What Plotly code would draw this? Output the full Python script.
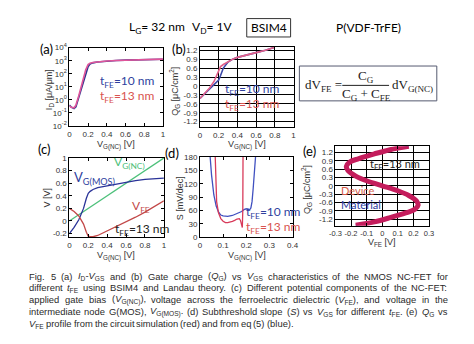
import re
import plotly.graph_objects as go

W, H = 474, 344

# ---------------- data ----------------
# (a) Id - Vg(NC)
a_v = [0, 0.02, 0.05, 0.07, 0.1, 0.125, 0.15, 0.175, 0.2, 0.22, 0.25, 0.3, 0.4, 0.5, 0.6, 0.7, 0.8, 0.9, 1.0]
a_id_10 = [0.4, 0.28, 0.22, 0.3, 1.5, 6, 30, 120, 350, 550, 680, 800, 950, 1030, 1100, 1150, 1200, 1250, 1300]
a_id_13 = [0.35, 0.27, 0.25, 0.4, 2.0, 9, 50, 200, 500, 650, 720, 820, 960, 1040, 1110, 1160, 1210, 1260, 1310]

# (b) Qg - Vg(NC)
b_v = [0, 0.05, 0.1, 0.15, 0.18, 0.2, 0.22, 0.25, 0.3, 0.35, 0.4, 0.5, 0.6, 0.7, 0.8]
b_q_10 = [-0.42, -0.27, -0.1, 0.05, 0.13, 0.2, 0.35, 0.6, 0.8, 0.9, 0.96, 1.05, 1.12, 1.2, 1.3]
b_q_13 = [-0.42, -0.26, -0.08, 0.15, 0.38, 0.55, 0.65, 0.72, 0.82, 0.9, 0.96, 1.05, 1.12, 1.2, 1.3]

# (c) potential components (tFE = 13 nm)
c_v = [0, 0.05, 0.1, 0.15, 0.18, 0.2, 0.22, 0.25, 0.3, 0.4, 0.5, 0.6, 0.7, 0.8, 0.9, 1.0]
c_vgnc = [0, 0.05, 0.1, 0.15, 0.18, 0.2, 0.22, 0.25, 0.3, 0.4, 0.5, 0.6, 0.7, 0.8, 0.9, 1.0]
c_vgmos = [-0.2, -0.1, 0.02, 0.2, 0.36, 0.44, 0.47, 0.5, 0.53, 0.56, 0.59, 0.62, 0.64, 0.66, 0.67, 0.68]
c_vfe = [0.2, 0.15, 0.08, -0.05, -0.18, -0.24, -0.25, -0.25, -0.23, -0.16, -0.09, -0.02, 0.06, 0.14, 0.23, 0.32]

# (d) subthreshold slope
d_v_10 = [0.044, 0.05, 0.06, 0.07, 0.08, 0.09, 0.1, 0.11, 0.12, 0.14, 0.16, 0.18, 0.19, 0.2, 0.21, 0.215, 0.22, 0.225, 0.23, 0.235, 0.24]
d_s_10 = [180, 140, 95, 70, 57, 50, 48, 47, 47, 49, 53, 58, 62, 64, 62, 62, 66, 80, 110, 145, 180]
d_v_13 = [0.066, 0.068, 0.072, 0.08, 0.09, 0.1, 0.11, 0.12, 0.13, 0.14, 0.15, 0.16, 0.17, 0.175, 0.18, 0.183, 0.185, 0.186]
d_s_13 = [180, 120, 80, 55, 42, 36, 33, 33, 34, 36, 38, 41, 42, 38, 28, 22, 60, 180]

# (e) Qg - Vfe S-curve
e_q = [1.42, 1.3, 1.15, 0.98, 0.85, 0.7, 0.55, 0.35, 0.18, 0, -0.18, -0.35, -0.55, -0.7, -0.85, -0.98, -1.15, -1.3, -1.42]
e_v = [0.17, 0.05, -0.05, -0.15, -0.21, -0.23, -0.22, -0.17, -0.1, 0, 0.1, 0.17, 0.22, 0.23, 0.21, 0.15, 0.05, -0.05, -0.17]

# tick labels
a_xt = [0, 0.2, 0.4, 0.6, 0.8, 1]
a_xl = ["0", "0.2", "0.4", "0.6", "0.8", "1"]
a_yt = [1e-2, 1e-1, 1, 10, 100, 1e3, 1e4]
a_yl = ["10<sup>-2</sup>", "10<sup>-1</sup>", "10<sup>0</sup>", "10<sup>1</sup>", "10<sup>2</sup>", "10<sup>3</sup>", "10<sup>4</sup>"]
b_yt = [-1.2, -0.9, -0.6, -0.3, 0, 0.3, 0.6, 0.9, 1.2]
b_yl = ["-1.2", "-0.9", "-0.6", "-0.3", "0", "0.3", "0.6", "0.9", "1.2"]
c_yt = [-0.2, 0, 0.2, 0.4, 0.6, 0.8, 1]
c_yl = ["-0.2", "0", "0.2", "0.4", "0.6", "0.8", "1"]
d_xt = [0, 0.1, 0.2, 0.3, 0.4]
d_xl = ["0", "0.1", "0.2", "0.3", "0.4"]
d_yt = [0, 30, 60, 90, 120, 150, 180]
d_yl = ["0", "30", "60", "90", "120", "150", "180"]
e_xt = [-0.3, -0.2, -0.1, 0, 0.1, 0.2, 0.3]
e_xl = ["-0.3", "-0.2", "-0.1", "0", "0.1", "0.2", "0.3"]

caption = [
    "Fig. 5 (a) <i>I</i><sub>D</sub>-<i>V</i><sub>GS</sub> and (b) Gate charge (<i>Q</i><sub>G</sub>) vs <i>V</i><sub>GS</sub> characteristics of the NMOS NC-FET for",
    "different <i>t</i><sub>FE</sub> using BSIM4 and Landau theory. (c) Different potential components of the NC-FET:",
    "applied gate bias (<i>V</i><sub>G(NC)</sub>), voltage across the ferroelectric dielectric (<i>V</i><sub>FE</sub>), and voltage in the",
    "intermediate node G(MOS), <i>V</i><sub>G(MOS)</sub>. (d) Subthreshold slope (<i>S</i>) vs <i>V</i><sub>GS</sub> for different <i>t</i><sub>FE</sub>. (e) <i>Q</i><sub>G</sub> vs",
    "<i>V</i><sub>FE</sub> profile from the circuit simulation (red) and from eq (5) (blue).",
]

# ---------------- styling ----------------
BLUE = "#2b3590"
TXT_BLUE = "#2f3f9e"
TXT_RED = "#d9534f"
LBL = "Lato"
TICK = dict(family="Liberation Sans", size=8, color="#333")

# Arial / Liberation Sans advance widths (1/1000 em)
CW = {' ': 278, '(': 333, ')': 333, ',': 278, '-': 333, '.': 278, ':': 278, '=': 584}
CW.update({d: 556 for d in "0123456789"})
CW.update(dict(zip("ABCDEFGHIJKLMNOPQRSTUVWXYZ",
                   [667, 667, 722, 722, 667, 611, 778, 722, 278, 500, 667, 556, 833, 722, 778, 667, 778, 722, 667, 611, 722, 667, 944, 667, 667, 611])))
CW.update(dict(zip("abcdefghijklmnopqrstuvwxyz",
                   [556, 556, 500, 556, 556, 278, 556, 556, 222, 222, 500, 222, 833, 556, 556, 556, 556, 333, 500, 278, 556, 500, 722, 500, 500, 500])))


def measure(html, size):
    w, scale = 0.0, 1.0
    for tok in re.split(r"(<[^>]+>)", html):
        if tok.startswith("<"):
            if tok == "<sub>":
                scale = 0.7
            elif tok == "</sub>":
                scale = 1.0
            continue
        for ch in tok:
            w += CW.get(ch, 556) * size * scale / 1000
    return w


def px(x):
    return x / W


def py(y):
    return 1 - y / H


def axis(dom, anchor, grid=False, **kw):
    d = dict(domain=dom, anchor=anchor, showline=True, linecolor="black", linewidth=1,
             mirror="allticks", ticks="inside", ticklen=3, tickcolor="black",
             tickfont=TICK, zeroline=False, showgrid=grid, gridcolor="black", gridwidth=1,
             tickangle=0)
    d.update(kw)
    return d


fig = go.Figure()
# (a)
fig.add_trace(go.Scatter(x=a_v, y=a_id_10, mode="lines", line=dict(color=BLUE, width=1.6), xaxis="x", yaxis="y"))
fig.add_trace(go.Scatter(x=a_v, y=a_id_13, mode="lines", line=dict(color="#e0559a", width=1.6), xaxis="x", yaxis="y"))
# (b)
fig.add_trace(go.Scatter(x=b_v, y=b_q_10, mode="lines", line=dict(color="#3b48a8", width=1.6), xaxis="x2", yaxis="y2"))
fig.add_trace(go.Scatter(x=b_v, y=b_q_13, mode="lines", line=dict(color="#e2608a", width=1.6), xaxis="x2", yaxis="y2"))
# (c)
fig.add_trace(go.Scatter(x=c_v, y=c_vgnc, mode="lines", line=dict(color="#4cc07a", width=1.3), xaxis="x3", yaxis="y3"))
fig.add_trace(go.Scatter(x=c_v, y=c_vgmos, mode="lines", line=dict(color="#2a3398", width=1.3), xaxis="x3", yaxis="y3"))
fig.add_trace(go.Scatter(x=c_v, y=c_vfe, mode="lines", line=dict(color="#c24848", width=1.3), xaxis="x3", yaxis="y3"))
# (d)
fig.add_trace(go.Scatter(x=d_v_10, y=d_s_10, mode="lines", line=dict(color="#4050c0", width=1.3), xaxis="x4", yaxis="y4"))
fig.add_trace(go.Scatter(x=d_v_13, y=d_s_13, mode="lines", line=dict(color="#d83a5a", width=1.3), xaxis="x4", yaxis="y4"))
# (e)
fig.add_trace(go.Scatter(x=e_v, y=e_q, mode="lines", line=dict(color="#2a3598", width=1.5), xaxis="x5", yaxis="y5"))
fig.add_trace(go.Scatter(x=e_v, y=e_q, mode="lines", line=dict(color="#c41c5c", width=5, shape="spline"), xaxis="x5", yaxis="y5"))

layout = dict(
    width=W, height=H, margin=dict(l=0, r=0, t=0, b=0), showlegend=False,
    paper_bgcolor="white", plot_bgcolor="white",
    xaxis=axis([px(65), px(161)], "y", range=[0, 1], tickvals=a_xt, ticktext=a_xl),
    yaxis=axis([py(124), py(43)], "x", type="log", range=[-2, 4], tickvals=a_yt, ticktext=a_yl),
    xaxis2=axis([px(199), px(295)], "y2", grid=True, range=[0, 1], tickvals=a_xt, ticktext=a_xl),
    yaxis2=axis([py(125), py(42)], "x2", grid=True, range=[-1.38, 1.32], tickvals=b_yt, ticktext=b_yl),
    xaxis3=axis([px(65), px(162)], "y3", range=[0, 1], tickvals=a_xt, ticktext=a_xl),
    yaxis3=axis([py(239), py(157)], "x3", range=[-0.26, 1.0], tickvals=c_yt, ticktext=c_yl),
    xaxis4=axis([px(199), px(294)], "y4", range=[0, 0.4], tickvals=d_xt, ticktext=d_xl),
    yaxis4=axis([py(239), py(156)], "x4", range=[0, 180], tickvals=d_yt, ticktext=d_yl),
    xaxis5=axis([px(338), px(434)], "y5", grid=True, range=[-0.3, 0.3], tickvals=e_xt, ticktext=e_xl,
                tickfont=dict(family="Liberation Sans", size=7.5, color="#333")),
    yaxis5=axis([py(227), py(145)], "x5", grid=True, range=[-1.44, 1.42], tickvals=b_yt, ticktext=b_yl),
)

ann = []


def T(x, y, text, size=12, color="black", family=LBL, xa="center", ya="middle", angle=0):
    ann.append(dict(x=px(x), y=py(y), xref="paper", yref="paper", text=text, showarrow=False,
                    xanchor=xa, yanchor=ya, textangle=angle, borderpad=0,
                    font=dict(family=family, size=size, color=color)))


# header
T(125, 22, "L<sub>G</sub>= 32 nm", 12, xa="left")
T(190, 22, "V<sub>D</sub>= 1V", 12, xa="left")
T(269.5, 22, "BSIM4", 12)
T(338, 22, "P(VDF-TrFE)", 12, xa="left")

# panel labels
T(42, 44, "(a)", 13)
T(178, 44, "(b)", 13)
T(40, 148, "(c)", 13)
T(170, 152, "(d)", 13)
T(311, 150, "(e)", 13)

# axis titles
XT = "V<sub>G(NC)</sub> [V]"
AF = "Liberation Sans"
T(113, 143.5, XT, 9, family=AF, color="#333")
T(247, 143.5, XT, 9, family=AF, color="#333")
T(113, 258.5, XT, 9, family=AF, color="#333")
T(247, 258, XT, 9, family=AF, color="#333")
T(386, 244, "V<sub>FE</sub> [V]", 9, family=AF, color="#333")
T(44, 86, "I<sub>D</sub> [μA/μm]", 9, family=AF, color="#333", angle=-90)
T(173, 88, "Q<sub>G</sub> [μC/cm<sup>2</sup>]", 9, family=AF, color="#333", angle=-90)
T(42, 198, "V [V]", 9, family=AF, color="#333", angle=-90)
T(178, 198, "S [mV/dec]", 9, family=AF, color="#333", angle=-90)
T(309, 190, "Q<sub>G</sub> [μC/cm<sup>2</sup>]", 9, family=AF, color="#333", angle=-90)

# in-plot labels
T(95, 78.5, "t<sub>FE</sub>=10 nm", 12, TXT_BLUE, xa="left")
T(95, 93, "t<sub>FE</sub>=13 nm", 12, TXT_RED, xa="left")
T(224, 86, "t<sub>FE</sub>=10 nm", 12, TXT_BLUE, xa="left")
T(224, 101.5, "t<sub>FE</sub>=13 nm", 12, TXT_RED, xa="left")
T(69, 178, "V<sub>G(MOS)</sub>", 13, TXT_BLUE, xa="left")
T(110, 162, "V<sub>G(NC)</sub>", 12, "#4cc07a", xa="left")
T(128, 207, "V<sub>FE</sub>", 12, "#c24848", xa="left")
T(111, 231, "t<sub>FE</sub>=13 nm", 12, "#222", xa="left")
T(245, 213.5, "t<sub>FE</sub>=10 nm", 12, TXT_BLUE, xa="left")
T(245, 229, "t<sub>FE</sub>=13 nm", 12, TXT_RED, xa="left")
T(372, 164, "t<sub>FE</sub>=13 nm", 11, "#222", xa="left")
T(343, 191, "Device", 11, "#d45a48", xa="left")
T(343, 205, "Material", 11, "#2b3a9e", xa="left")

# equation
EQF = "Liberation Serif"
T(306, 82, "dV<sub>FE</sub> =", 13, "#222", family=EQF, xa="left")
T(369, 73, "C<sub>G</sub>", 13, "#222", family=EQF)
T(369.5, 91, "C<sub>G</sub> + C<sub>FE</sub>", 13, "#222", family=EQF)
T(395, 82, "dV<sub>G(NC)</sub>", 13, "#222", family=EQF, xa="left")

# caption, justified word by word
CAP_SIZE = 9.4
CAP_L, CAP_R = 23, 452
for i, line in enumerate(caption):
    words = line.split(" ")
    widths = [measure(w_, CAP_SIZE) for w_ in words]
    if i < len(caption) - 1:
        gap = (CAP_R - CAP_L - sum(widths)) / (len(words) - 1)
    else:
        gap = CW[" "] * CAP_SIZE / 1000
    x = CAP_L
    for w_, wd in zip(words, widths):
        T(x, 279 + i * 12.3, w_, CAP_SIZE, "#2a2a2a", family=AF, xa="left")
        x += wd + gap

layout["annotations"] = ann
layout["shapes"] = [
    dict(type="rect", xref="paper", yref="paper", x0=px(247), x1=px(292), y0=py(32), y1=py(13),
         line=dict(color="#333", width=1)),
    dict(type="rect", xref="paper", yref="paper", x0=px(301), x1=px(442), y0=py(98), y1=py(62),
         line=dict(color="#555a70", width=1)),
    dict(type="line", xref="paper", yref="paper", x0=px(345), x1=px(393), y0=py(82), y1=py(82),
         line=dict(color="#222", width=1)),
]

fig.update_layout(**layout)
fig.write_html("out.html")
